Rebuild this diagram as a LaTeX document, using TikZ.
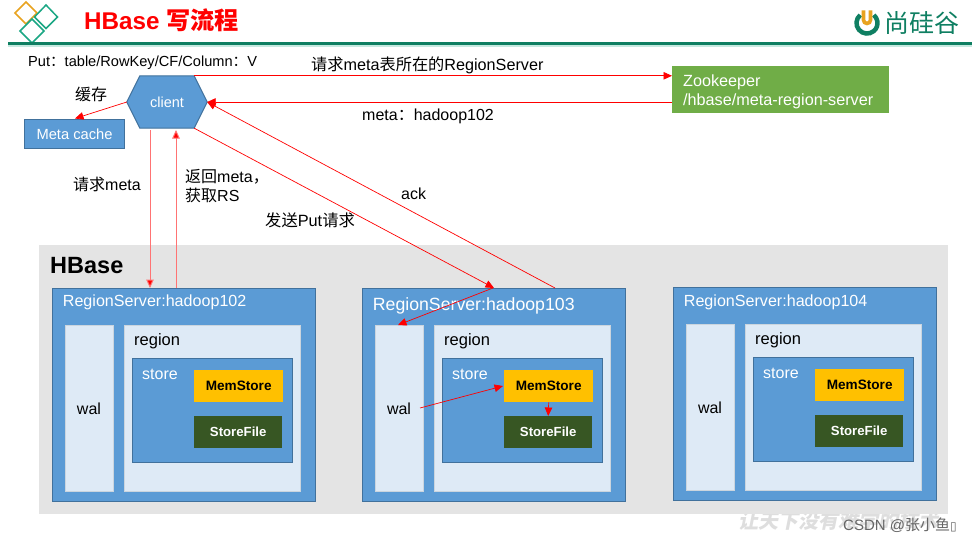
\documentclass[tikz,border=0pt]{standalone}
\usepackage{fontspec}
\setmainfont{Liberation Sans}
\newfontfamily\cjk{Noto Sans CJK SC}
\newfontfamily\symfont{DejaVu Sans}
\usetikzlibrary{arrows.meta,calc}
\definecolor{cblue}{HTML}{5B9BD5}
\definecolor{cedge}{HTML}{41719C}
\definecolor{clight}{HTML}{DEEAF6}
\definecolor{cgray}{HTML}{E4E4E4}
\definecolor{cmem}{HTML}{FFC000}
\definecolor{cfile}{HTML}{375623}
\definecolor{czk}{HTML}{70AD47}
\definecolor{crule}{HTML}{0F7F62}
\definecolor{cdiam}{HTML}{1BA784}
\definecolor{cgold}{HTML}{E8A320}
\newcommand{\fs}[1]{\fontsize{#1}{#1}\selectfont}
\tikzset{
  box/.style={draw=cedge,line width=1pt,inner sep=0pt,anchor=north west},
  bluebox/.style={box,fill=cblue},
  lightbox/.style={box,draw=clight!80!gray,fill=clight,line width=0.6pt},
  memnode/.style={inner sep=0pt,anchor=north west,fill=cmem,minimum width=89pt,minimum height=32pt,font=\fs{13.6}\bfseries},
  filenode/.style={inner sep=0pt,anchor=north west,fill=cfile,text=white,minimum width=88pt,minimum height=32pt,font=\fs{13.2}\bfseries},
  lab/.style={inner sep=0pt,anchor=west,font=\fs{16}},
  wlab/.style={lab,text=white},
  flow/.style={draw=red,line width=0.7pt,-{Triangle[length=8.5pt,width=7.5pt,fill=red]}},
  flowlight/.style={flow,draw=red!55!white,line width=1pt},
  diam/.style={draw=cdiam,line width=1.5pt},
}
\newcommand{\rsgroup}[5]{%
\begin{scope}[shift={(#2,#3)},name prefix=#1-]
  \node[bluebox,minimum width=263pt,minimum height=213pt] (rs) at (52,288) {};
  \node[wlab,font=\fs{#5}] (rstitle) at (62.7,#4) {RegionServer:hadoop10\rsnum};
  \node[lightbox,minimum width=47.5pt,minimum height=165.5pt] (wal) at (65,325) {};
  \node[lab,anchor=center] (wallab) at (89,408.5) {wal};
  \node[lightbox,minimum width=175.5pt,minimum height=165.5pt] (region) at (124,325) {};
  \node[lab,font=\fs{16.5}] (reglab) at (134,341.5) {region};
  \node[bluebox,minimum width=160pt,minimum height=104pt] (store) at (132,358) {};
  \node[wlab] (storelab) at (142,374.5) {store};
  \node[memnode] (mem) at (194,370) {MemStore};
  \node[filenode] (file) at (194,416) {StoreFile};
\end{scope}}
\begin{document}
\begin{tikzpicture}[x=1pt,y=-1pt]
\useasboundingbox (0,0) rectangle (972,543);
\fill[white] (0,0) rectangle (972,543);
% header logo
\draw[draw=cgold,line width=1.5pt] (26,2)--(37,13)--(26,24)--(15,13)--cycle;
\draw[diam] (46,5)--(57.5,17)--(46,28.5)--(34.5,17)--cycle;
\draw[diam] (32,19)--(44,31)--(32,43)--(20,31)--cycle;
\node[inner sep=0pt,anchor=west,text=red,font=\fs{24.2}\bfseries] (title) at (84,20.5) {HBase {\cjk\bfseries 写流程}};
\fill[crule] (8,42.5) rectangle (972,45.5);
\fill[cdiam!25] (8,45.5) rectangle (972,47);
% right logo
\draw[crule,line width=4.5pt] (860.25,15) arc[start angle=-130,end angle=-410,radius=10.5];
\draw[cgold,line width=3.6pt] (863.5,10.5)--(863.5,20) arc[start angle=180,end angle=0,radius=3.5]--(870.5,10.5);
\node[inner sep=0pt,anchor=west,text=crule,font=\cjk\fs{25}] (brand) at (884,23) {尚硅谷};
% put text
\node[lab,font=\fs{14.6}] (put) at (28,62.5) {Put{\cjk：}table/RowKey/CF/Column{\cjk：}V};
% watermark, partly hidden by the grey area
\node[inner sep=0pt,anchor=west,text=black!13,font=\cjk\fs{20}\bfseries,xslant=0.2] (wm) at (740,521) {让天下没有难学的技术};
% HBase area
\fill[cgray] (39,245) rectangle (948,514);
\node[inner sep=0pt,anchor=west,font=\fs{23.5}\bfseries] (hbase) at (50,266) {HBase};
\def\rsnum{2}\rsgroup{a}{0}{0}{302.5}{16.1}
\def\rsnum{3}\rsgroup{b}{310}{0}{305.5}{17.7}
\def\rsnum{4}\rsgroup{c}{621}{-1}{303}{16.1}
% client
\node[inner sep=0pt,minimum width=80pt,minimum height=52pt] (client) at (167,102) {};
\draw[fill=cblue,draw=cedge,line width=1pt] (client.west)--($(client.north west)+(13,0)$) coordinate (cnw)--($(client.north east)+(-13,0)$) coordinate (cne)--(client.east)--($(client.south east)+(-13,0)$) coordinate (cse)--($(client.south west)+(13,0)$) coordinate (csw)--cycle;
\node[inner sep=0pt,font=\fs{14.5},text=white] (clientlab) at (167,102.5) {client};
% meta cache
\node[bluebox,minimum width=100pt,minimum height=29.5pt,font=\fs{14.7},text=white] (cache) at (24,118.5) {Meta cache};
% zookeeper
\node[inner sep=0pt,anchor=north west,fill=czk,minimum width=217pt,minimum height=47pt] (zk) at (672,66) {};
\node[wlab,align=left,font=\fs{16.2}] (zklab) at (683,92) {Zookeeper\\[3pt]/hbase/meta-region-server};
% labels
\node[lab] at (75,94.5) (huancun) {{\cjk 缓存}};
\node[lab,font=\fs{16.2}] at (311,65) (l1) {{\cjk 请求}meta{\cjk 表所在的}RegionServer};
\node[lab] at (362,116.5) (l2) {meta{\cjk：}hadoop102};
\node[lab] at (73,184) (l3) {{\cjk 请求}meta};
\node[lab,align=left] at (185,186.5) (l4) {{\cjk 返回}meta{\cjk ，}\\[3pt]{\cjk 获取}RS};
\node[lab,font=\fs{16.3}] at (265,220.5) (l5) {{\cjk 发送}Put{\cjk 请求}};
\node[lab] at (401,193.5) (l6) {ack};
% connector ends
\coordinate (zk1) at (zk.west |- cne);
\coordinate (zk2) at (zk.west |- client.east);
\coordinate (cb1) at (150,130);
\coordinate (cb2) at (176,130);
\coordinate (a1) at (150,288);
\coordinate (a2) at (176,288);
\coordinate (b1) at (494,288);
\coordinate (b2) at (555,288);
\coordinate (b3) at (493,288);
\coordinate (w1) at (398,325);
\coordinate (w2) at (420,408);
\coordinate (m1) at (503,386);
\coordinate (cachetop) at (75,118.5);
% connectors
\draw[flow] (cne)--(zk1);
\draw[flow] (zk2)--(client.east);
\draw[flow] (client.west)--(cachetop);
\draw[flowlight] (cb1)--(a1);
\draw[flowlight] (a2)--(cb2);
\draw[flow] (cse)--(b1);
\draw[flow] (b2)--(client.east);
\draw[flow] (b3)--(w1);
\draw[flow] (w2)--(m1);
\draw[flow] (b-mem.south)--(b-file.north);
% credit
\node[inner sep=0pt,anchor=west,text=black!60,font=\fs{15}] (csdn) at (843,525.5) {CSDN @{\cjk 张小鱼}{\symfont\fs{12}▯}};
\end{tikzpicture}
\end{document}
